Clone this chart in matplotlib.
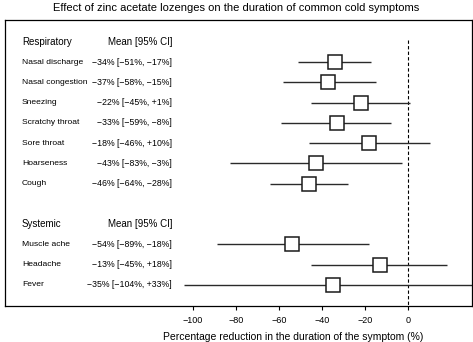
import matplotlib
matplotlib.use("Agg")
import matplotlib.pyplot as plt
import matplotlib.transforms as mtransforms

plt.rcParams['font.family'] = ['Liberation Sans', 'DejaVu Sans']

resp_names = ["Nasal discharge", "Nasal congestion", "Sneezing", "Scratchy throat",
              "Sore throat", "Hoarseness", "Cough"]
resp_mean = [-34, -37, -22, -33, -18, -43, -46]
resp_lo = [-51, -58, -45, -59, -46, -83, -64]
resp_hi = [-17, -15, 1, -8, 10, -3, -28]

sys_names = ["Muscle ache", "Headache", "Fever"]
sys_mean = [-54, -13, -35]
sys_lo = [-89, -45, -104]
sys_hi = [-18, 18, 33]

xticks = [-100, -80, -60, -40, -20, 0]

def fmt(v, signed=False):
    if v < 0:
        return "\u2212%d%%" % abs(v)
    return ("+%d%%" % v) if signed else ("%d%%" % v)

fig = plt.figure(figsize=(4.73, 3.42), dpi=100)
ax = fig.add_axes([5/473, 1-306/342, (471.7-5)/473, (306-20)/342])

xl, xr = (5-408)/2.15, (471.7-408)/2.15
ax.set_xlim(xl, xr)
ax.set_ylim(13.04, -1.086)

label_x = (22-408)/2.15
ci_x = (172-408)/2.15

groups = [("Respiratory", 0, resp_names, resp_mean, resp_lo, resp_hi),
          ("Systemic", 9, sys_names, sys_mean, sys_lo, sys_hi)]
col = "#2a2a2a"
for title, start, names, means, los, his in groups:
    ax.text(label_x, start, title, fontsize=7.0, ha='left', va='center')
    ax.text(ci_x, start, "Mean [95% CI]", fontsize=7.0, ha='right', va='center')
    for i, (n, m, lo, hi) in enumerate(zip(names, means, los, his)):
        y = start + 1 + i
        ax.text(label_x, y, n, fontsize=6.1, ha='left', va='center')
        ax.text(ci_x, y, "%s [%s, %s]" % (fmt(m), fmt(lo, True), fmt(hi, True)),
                fontsize=6.3, ha='right', va='center')
        ax.plot([lo, hi], [y, y], color=col, lw=1.0, solid_capstyle='butt', zorder=2)
        ax.plot([m], [y], marker='s', ms=9.8, mfc='white', mec='#1a1a1a', mew=1.1,
                ls='none', zorder=3)

ax.plot([0, 0], [-0.1, 13.04], color='black', lw=0.8, ls=(0, (3, 2)), zorder=1)

ax.set_yticks([])
ax.set_xticks(xticks)
ax.set_xticklabels([("\u2212%d" % abs(t)) if t < 0 else "%d" % t for t in xticks], fontsize=6.5)
ax.tick_params(axis='x', direction='out', length=3, width=0.8, pad=4)
for s in ax.spines.values():
    s.set_linewidth(0.9)

trans = mtransforms.blended_transform_factory(ax.transData, fig.transFigure)
fig.text((293-408)/2.15, 1-336.5/342, "Percentage reduction in the duration of the symptom (%)",
         fontsize=7.5, ha='center', va='center', transform=trans)
fig.suptitle("Effect of zinc acetate lozenges on the duration of common cold symptoms",
             fontsize=8, y=1-8/342, va='center')

fig.savefig("out.png", dpi=100)
